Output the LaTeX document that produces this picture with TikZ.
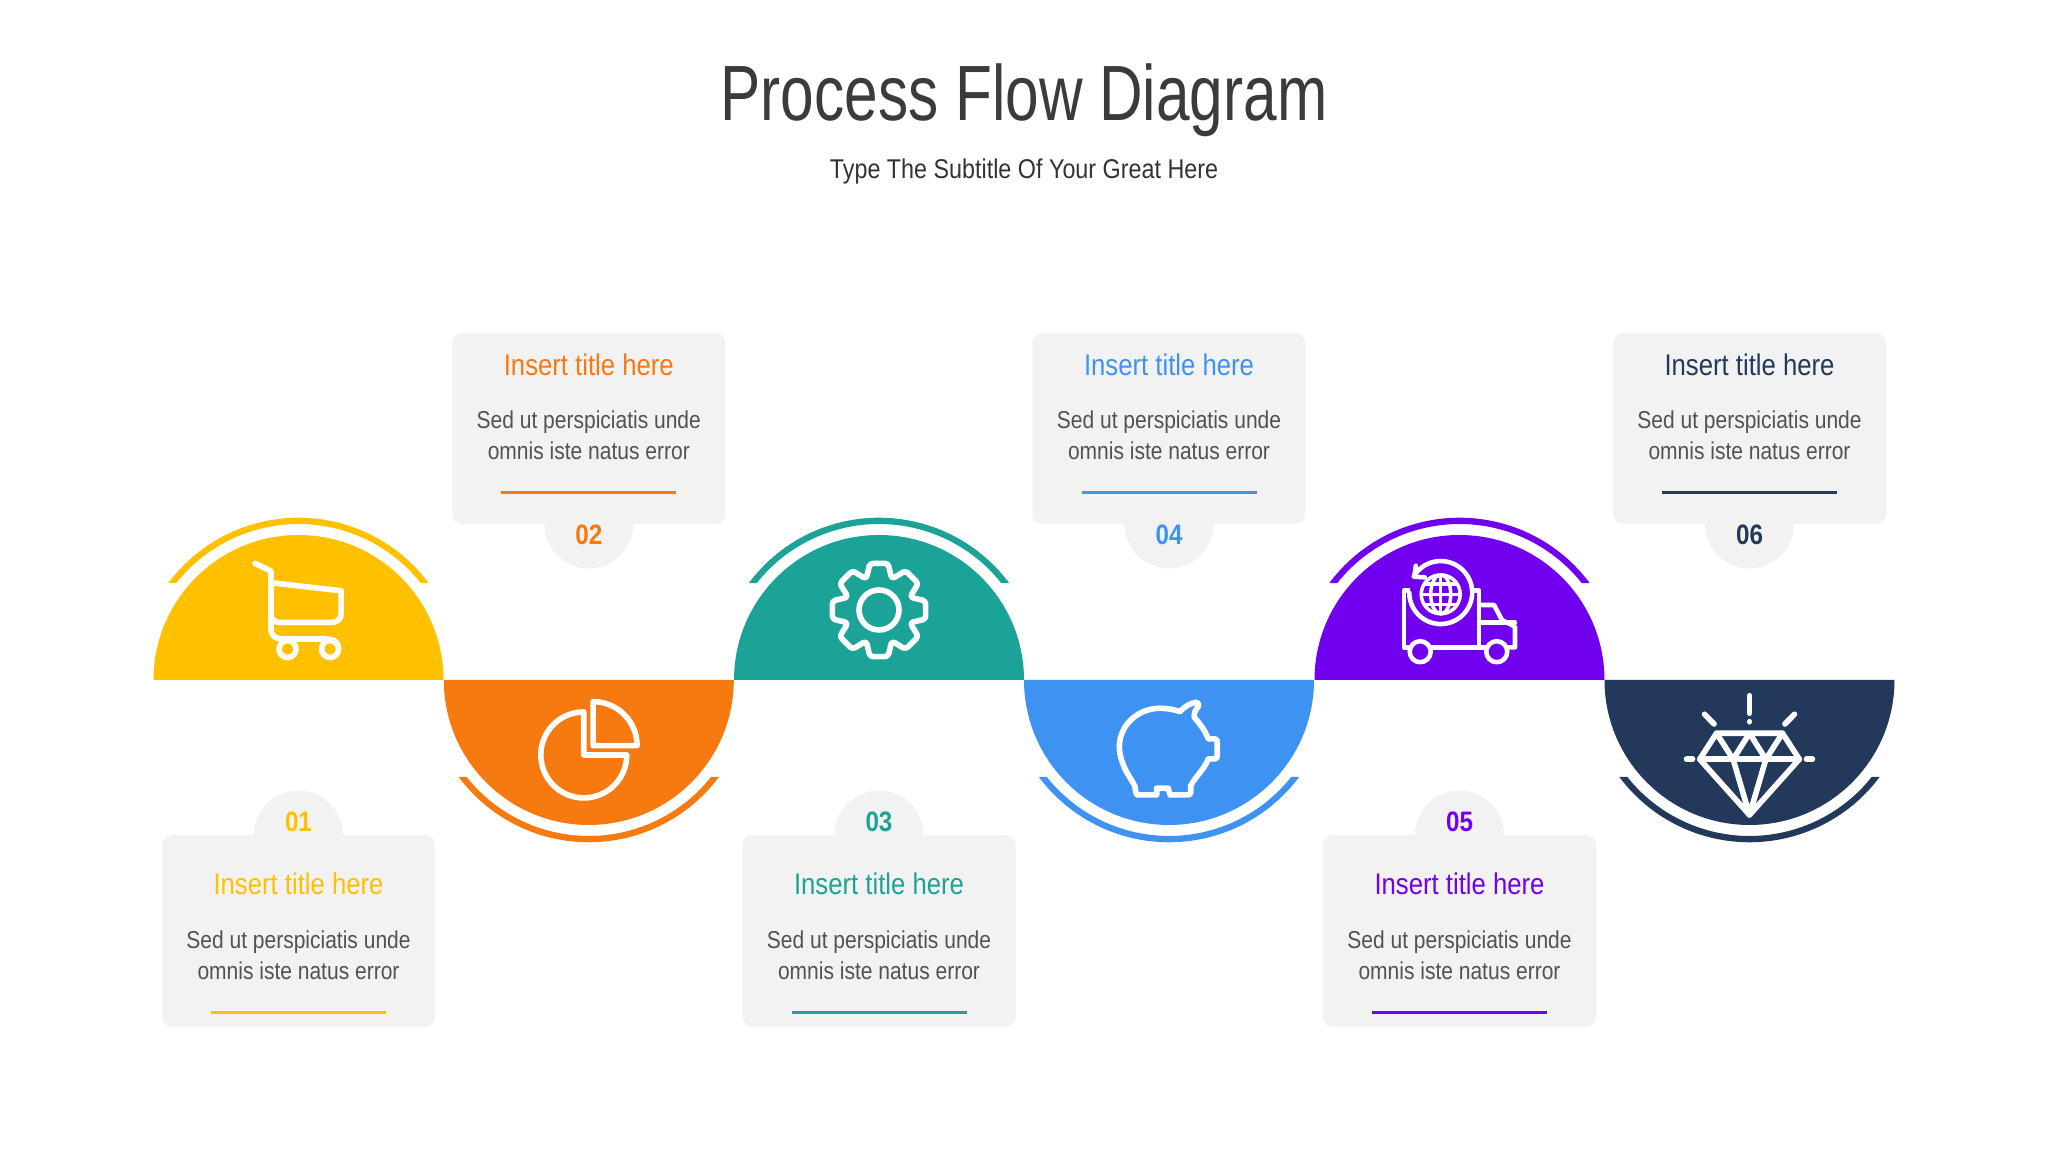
\documentclass[tikz,border=0pt]{standalone}
\usepackage{fontspec}
\usetikzlibrary{calc}
\setmainfont[FakeStretch=.86]{Liberation Sans}
\newfontfamily\headfont[FakeStretch=.77]{Liberation Sans}
\definecolor{amarelo}{HTML}{FFC000}
\definecolor{laranja}{HTML}{F67A10}
\definecolor{verde}{HTML}{1CA397}
\definecolor{azul}{HTML}{3E93F2}
\definecolor{roxo}{HTML}{7000EE}
\definecolor{marinho}{HTML}{23395B}
\definecolor{cartao}{HTML}{F3F2F3}
\tikzset{
  cardbox/.style={fill=cartao, rounded corners=.1cm, minimum width=2.73cm, minimum height=1.92cm, inner sep=0pt},
  tabdisc/.style={circle, fill=cartao, minimum size=.89cm, inner sep=0pt},
  numlabel/.style={anchor=base, inner sep=0pt, font=\fontsize{8}{10}\selectfont\bfseries},
  titlelabel/.style={anchor=base, inner sep=0pt, font=\fontsize{8.5}{10}\selectfont},
  bodylabel/.style={align=center, inner sep=0pt, text=black!68, font=\fontsize{6.95}{8.8}\selectfont},
  iconline/.style={draw=white, line width=1.6pt, line cap=round, line join=round}
}
\begin{document}
\begin{tikzpicture}
\useasboundingbox (0,0) rectangle (20.48,11.52);
\node[anchor=base, inner sep=0pt, text=black!77, font=\fontsize{22.3}{26}\selectfont\headfont] (heading) at (10.24,10.31) {Process Flow Diagram};
\node[anchor=base, inner sep=0pt, text=black!80, font=\fontsize{7.72}{10}\selectfont] (subheading) at (10.24,9.73) {Type The Subtitle Of Your Great Here};
% upper half discs and the cards under them
\foreach \cx/\cor/\n in {2.985/amarelo/01, 8.79/verde/03, 14.595/roxo/05}{
  \fill[\cor] (\cx-1.45,4.72) arc[start angle=180, end angle=0, radius=1.45] -- cycle;
  \fill[\cor] (\cx,4.72)+(36.7:1.623) arc[start angle=36.7, end angle=143.3, radius=1.623]
    -- ($(\cx,4.72)+(141.6:1.56)$) arc[start angle=141.6, end angle=38.4, radius=1.56] -- cycle;
  \node[tabdisc] (tab\n) at (\cx,3.17) {};
  \node[cardbox] (card\n) at (\cx,2.21) {};
  \node[numlabel, text=\cor] (num\n) at (\cx,3.205) {\n};
  \node[titlelabel, text=\cor] (title\n) at (\cx,2.575) {Insert title here};
  \node[bodylabel] (body\n) at (\cx,1.97) {Sed ut perspiciatis unde\\omnis iste natus error};
  \draw[\cor, line width=.85pt] (\cx-.875,1.39) -- (\cx+.875,1.39);
}
% lower half discs and the cards over them
\foreach \cx/\cor/\n in {5.888/laranja/02, 11.69/azul/04, 17.495/marinho/06}{
  \fill[\cor] (\cx-1.45,4.72) arc[start angle=180, end angle=360, radius=1.45] -- cycle;
  \fill[\cor] (\cx,4.72)+(-36.7:1.623) arc[start angle=-36.7, end angle=-143.3, radius=1.623]
    -- ($(\cx,4.72)+(-141.6:1.56)$) arc[start angle=-141.6, end angle=-38.4, radius=1.56] -- cycle;
  \node[tabdisc] (tab\n) at (\cx,6.28) {};
  \node[cardbox, minimum height=1.91cm] (card\n) at (\cx,7.235) {};
  \node[numlabel, text=\cor] (num\n) at (\cx,6.07) {\n};
  \node[titlelabel, text=\cor] (title\n) at (\cx,7.765) {Insert title here};
  \node[bodylabel] (body\n) at (\cx,7.17) {Sed ut perspiciatis unde\\omnis iste natus error};
  \draw[\cor, line width=.85pt] (\cx-.875,6.59) -- (\cx+.875,6.59);
}
% cart
\begin{scope}[shift={(2.985,4.72)}, x=.01cm, y=.01cm]
  \draw[iconline] (-43.5,116.7) -- (-27.5,109) -- (-27.5,50) to[out=-90,in=180] (-17,41) -- (28,41) to[out=0,in=90] (40,33);
  \draw[iconline] (-27.5,97.3) -- (42.7,89.3) -- (42.7,66) to[out=-90,in=0] (34,57.7) -- (-20,57.7) to[out=180,in=-90] (-27.5,66);
  \draw[iconline] (-11,31) circle[radius=8.5] (31.6,31) circle[radius=8.5];
\end{scope}
% pie
\begin{scope}[shift={(5.888,4.72)}, x=.01cm, y=.01cm]
  \draw[iconline] (-5,-32) -- (-5,-75) -- (38,-75) arc[start angle=0, end angle=-270, radius=43] -- cycle;
  \draw[iconline] (4.3,-21.7) -- (4.3,-65.7) -- (48.3,-65.7) arc[start angle=0, end angle=90, radius=44] -- cycle;
\end{scope}
% gear
\begin{scope}[shift={(8.79,5.42)}, x=.01cm, y=.01cm]
  \draw[iconline, rounded corners=.9pt] (-11:47.5) \foreach \a in {0,45,...,315}{ -- (\a-11:47.5) -- (\a+11:47.5) -- (\a+22.5:33.5)} -- cycle;
  \draw[iconline] (0,0) circle[radius=20];
\end{scope}
% piggy
\begin{scope}[shift={(11.69,5.12)}, x=.01cm, y=.01cm]
  \draw[iconline] (-49.7,-107.3) .. controls (-49.7,-84) and (-30,-68.3) .. (-9,-68.3)
    .. controls (-2,-68.3) and (5,-69.5) .. (11,-71.7)
    .. controls (16,-66) and (22,-63) .. (27.7,-62.3) .. controls (30,-63) and (30,-65) .. (29.3,-66.7)
    .. controls (26,-70) and (25,-73) .. (25.3,-77.3) .. controls (30,-83) and (36,-90) .. (39.3,-99)
    -- (46,-99) to[out=0,in=90] (48.3,-102) -- (48.3,-116) to[out=-90,in=0] (46,-119) -- (39.3,-119)
    .. controls (35,-130) and (26,-137) .. (21.7,-146) -- (21.7,-153) to[out=-90,in=0] (19,-155) -- (1,-155)
    -- (-.7,-148.3) -- (-12.3,-148.3) -- (-12.3,-155) -- (-32.3,-155)
    .. controls (-34,-150) and (-34,-148) .. (-34,-146.7) .. controls (-37,-140) and (-42,-134) .. (-44.3,-128.3)
    .. controls (-47,-122) and (-49.7,-115) .. cycle;
\end{scope}
% truck with globe
\begin{scope}[shift={(14.595,4.72)}, x=.01cm, y=.01cm, iconline/.append style={line width=1.3pt}]
  \draw[iconline] (-50,32.7) -- (-55.5,32.7) -- (-55.5,89.3) -- (19.6,89.3) -- (19.6,32.7);
  \draw[iconline] (-28.6,32.7) -- (26.6,32.7);
  \draw[iconline] (19.6,75) -- (34.6,75) -- (42.5,60) -- (55.5,53.3) -- (55.5,32.7) -- (48.4,32.7);
  \draw[iconline] (19.6,57.3) -- (55.5,57.3);
  \draw[iconline] (-39.3,28.3) circle[radius=10.5] (37.3,28.3) circle[radius=10.5];
  \draw[iconline, fill=roxo] (-18.8,87.5) ++(149:31.5) arc[start angle=149, end angle=-180, radius=31.5];
  \draw[iconline] (-43.7,114.3) -- (-45.3,103.3) -- (-34.6,102.7);
  \draw[iconline, line width=1pt] (-18.8,85.7) circle[radius=19.5];
  \draw[iconline, line width=1pt] (-18.8,85.7) ellipse[x radius=10, y radius=19.5];
  \draw[iconline, line width=1pt] (-18.8,66.2) -- (-18.8,105.2) (-38.3,85.7) -- (.7,85.7) (-35,96) -- (-2.6,96) (-35,75.4) -- (-2.6,75.4);
\end{scope}
% diamond
\begin{scope}[shift={(17.495,4.72)}, x=.01cm, y=.01cm]
  \draw[iconline] (-33,-53.3) -- (33,-53.3) -- (49.8,-79.3) -- (0,-135) -- (-49.8,-79.3) -- cycle;
  \draw[iconline] (-49.8,-79.3) -- (49.8,-79.3);
  \draw[iconline] (-33,-53.3) -- (-16.4,-79.3) -- (0,-53.3) -- (16.4,-79.3) -- (33,-53.3);
  \draw[iconline] (-16.4,-79.3) -- (0,-135) -- (16.4,-79.3);
  \draw[iconline] (0,-15.7) -- (0,-33.3) (0,-41.7) -- (0,-41.8);
  \draw[iconline] (-45,-34.3) -- (-35.4,-44) (45,-34.3) -- (35.4,-44);
  \draw[iconline] (-63,-79.3) -- (-57,-79.3) (63,-79.3) -- (57,-79.3);
\end{scope}
\end{tikzpicture}
\end{document}
